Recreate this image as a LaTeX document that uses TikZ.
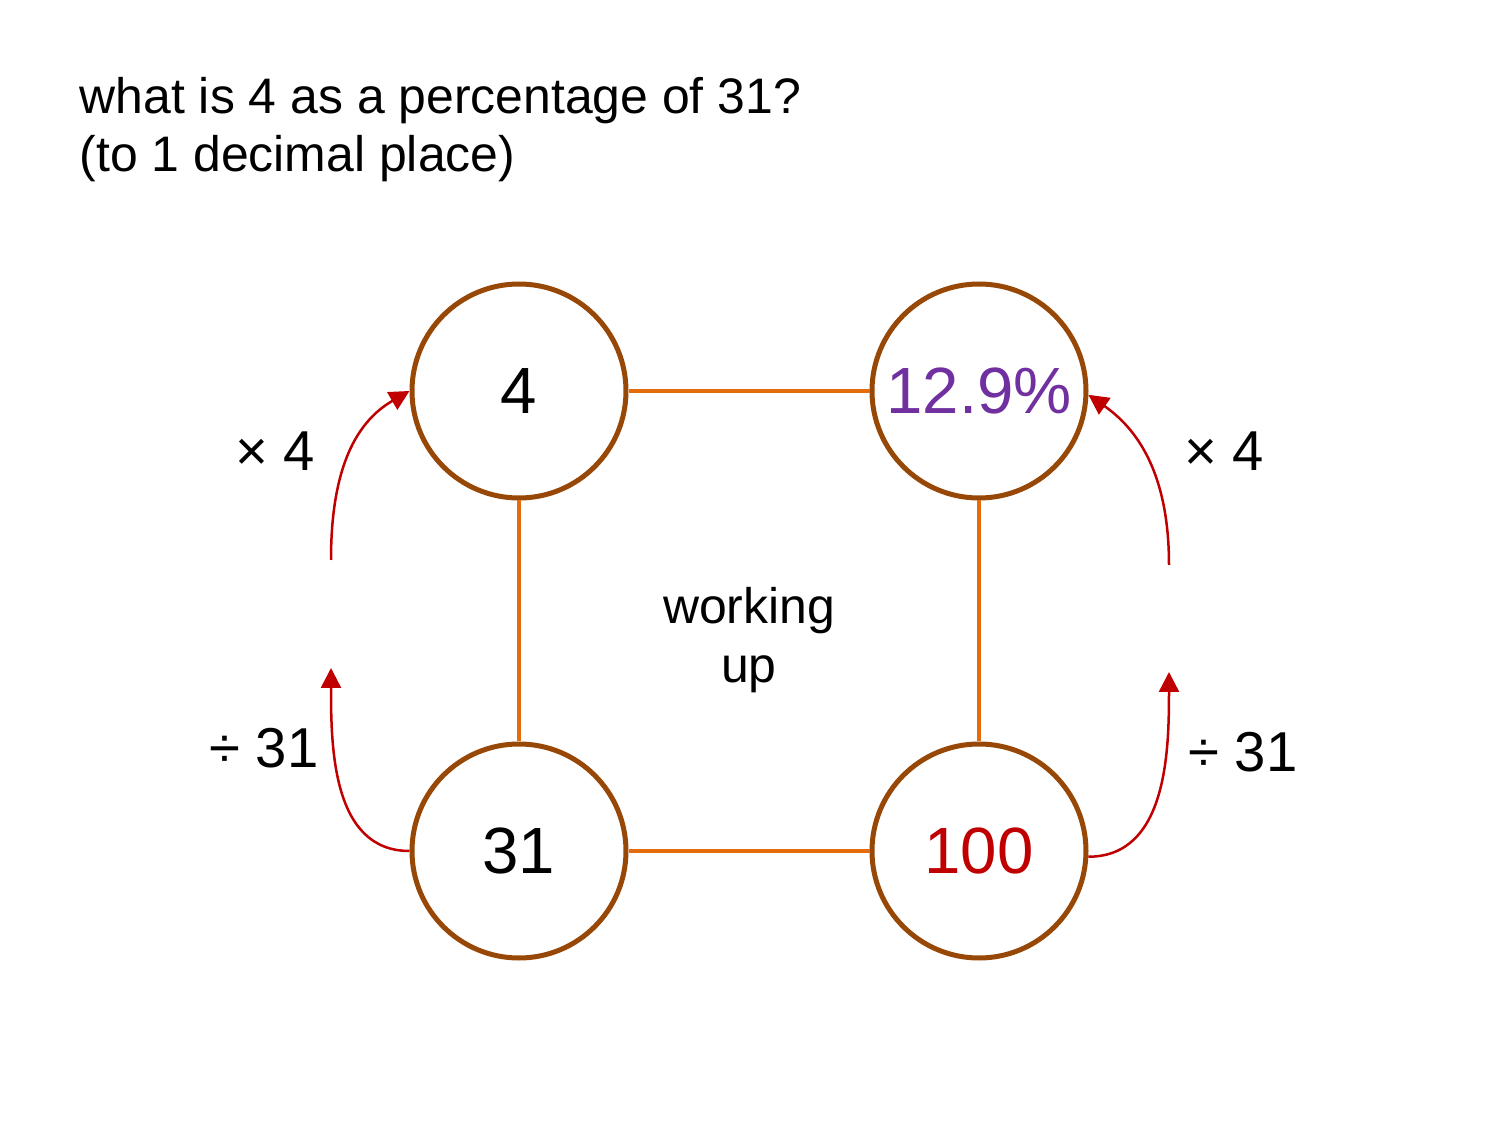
\documentclass[tikz,border=0pt]{standalone}
\usepackage{fontspec}
\setmainfont{Liberation Sans}
\usetikzlibrary{positioning, arrows.meta}
\definecolor{brownline}{RGB}{151,71,6}
\definecolor{orangeline}{RGB}{228,108,10}
\definecolor{redline}{RGB}{192,0,0}
\definecolor{purpletext}{RGB}{112,48,160}

\begin{document}
\begin{tikzpicture}
    [
        node distance=46mm and 46mm, on grid,
        num_node/.style={circle, draw=brownline, fill=white, line width=0.5mm, minimum size=21.4mm, inner sep=0mm, font=\fontsize{18.6}{22}\selectfont},
        link_line/.style={line width=0.45mm, color=orangeline},
        op_arrow/.style={-{Triangle[length=2mm, width=2mm]}, line width=0.25mm, color=redline},
        op_label/.style={inner sep=0mm, font=\fontsize{16}{19}\selectfont},
    ]
        \useasboundingbox (0,0) rectangle (15,11.25);
        \node[anchor=north west, align=left, inner sep=0mm, font=\fontsize{14.2}{16.5}\selectfont] (question) at (0.79,10.48) {what is 4 as a percentage of 31?\\(to 1 decimal place)};
        \node[num_node] (n4) at (5.19,7.34) {4};
        \node[num_node, text=purpletext] (npct) [right = of n4] {12.9\%};
        \node[num_node] (n31) [below = of n4] {31};
        \node[num_node, text=redline] (n100) [right = of n31] {100};
        \node[align=center, font=\fontsize{14.2}{17}\selectfont] (working) at (7.49,4.85) {working\\up};
        \draw[link_line] (n4) -- (npct) ;
        \draw[link_line] (n31) -- (n100) ;
        \draw[link_line] (n4) -- (n31) ;
        \draw[link_line] (npct) -- (n100) ;
        % operation arrows
        \coordinate (mul_l) at (3.31,5.65) ;
        \coordinate (div_l) at (3.31,4.57) ;
        \coordinate (mul_r) at (11.69,5.60) ;
        \coordinate (div_r) at (11.69,4.53) ;
        \draw[op_arrow] (mul_l) to[out=90, in=210] (n4.west) ;
        \draw[op_arrow] (n31.west) to[out=180, in=-90] (div_l) ;
        \draw[op_arrow] (mul_r) to[out=90, in=-35] (npct.-2) ;
        \draw[op_arrow] (n100.-3) to[out=0, in=-90] (div_r) ;
        \node[op_label] (mul_l_text) at (2.75,6.74) {× 4} ;
        \node[op_label] (div_l_text) at (2.64,3.77) {÷ 31} ;
        \node[op_label] (mul_r_text) at (12.24,6.74) {× 4} ;
        \node[op_label] (div_r_text) at (12.43,3.73) {÷ 31} ;
    \end{tikzpicture}
\end{document}
